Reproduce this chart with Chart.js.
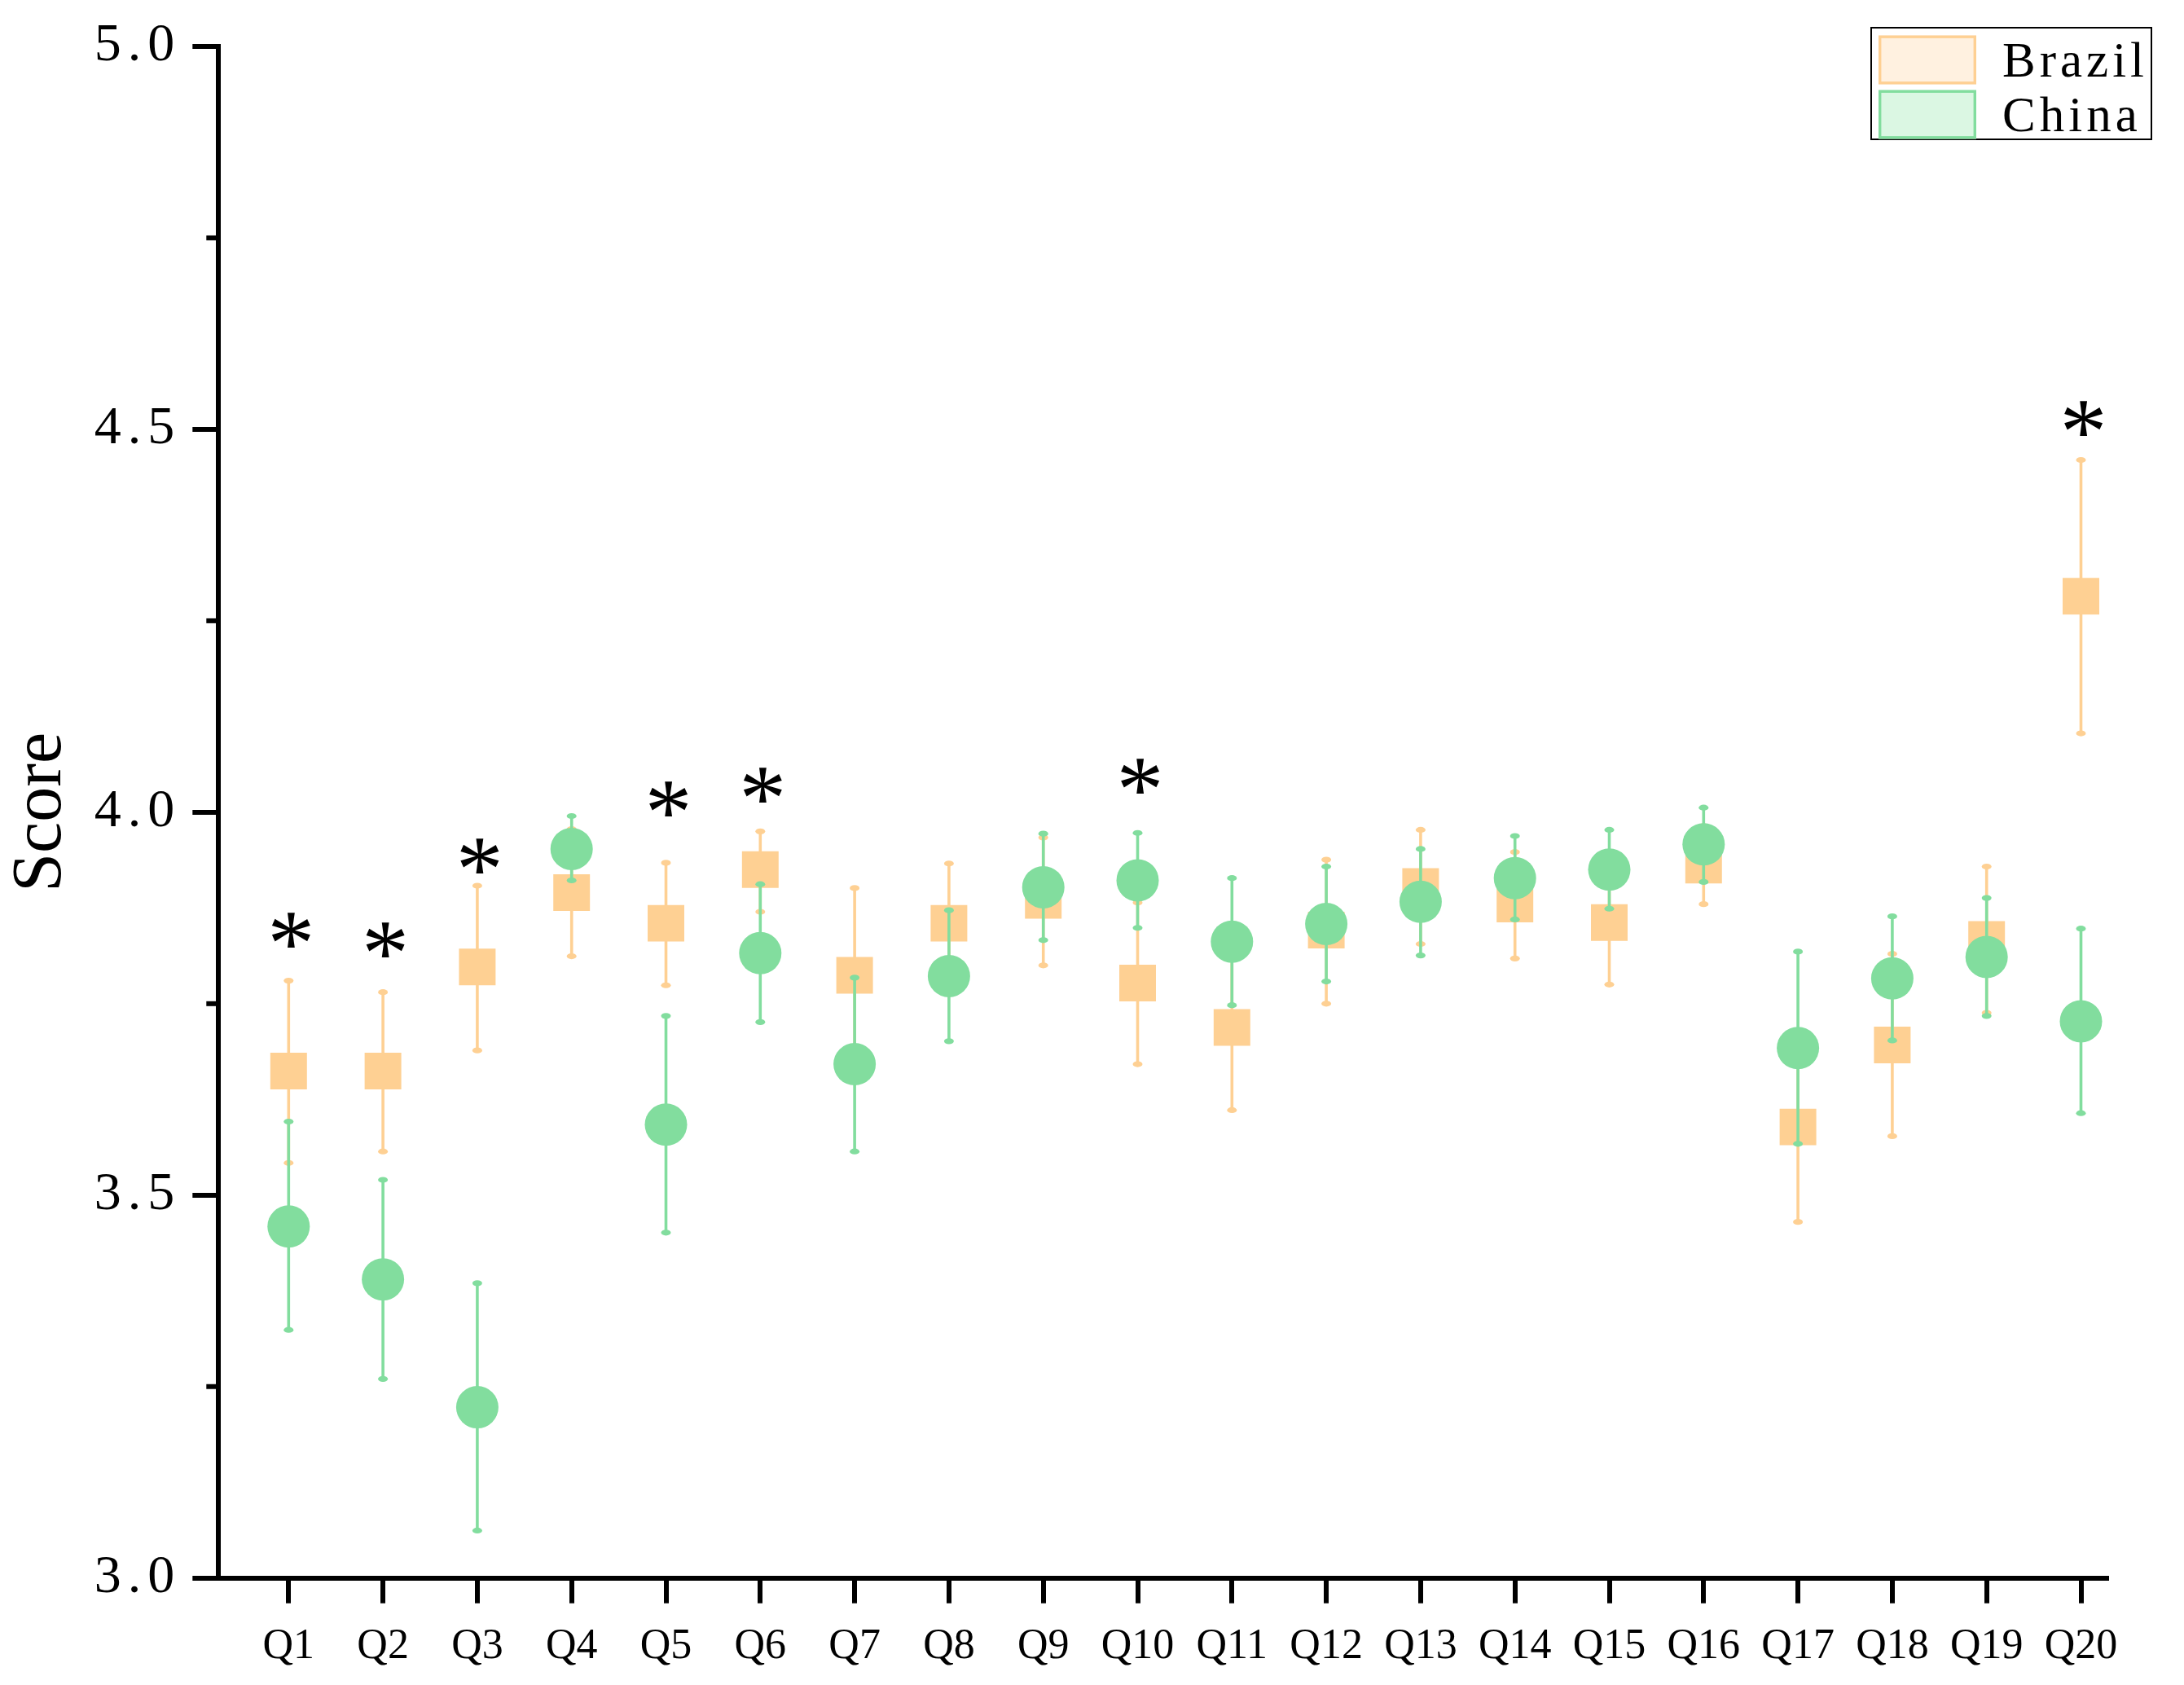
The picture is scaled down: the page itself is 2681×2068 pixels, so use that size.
<!DOCTYPE html>
<html>
<head>
<meta charset="utf-8">
<script src="https://cdn.jsdelivr.net/npm/chart.js@4.4.1/dist/chart.umd.min.js"></script>
<style>
html, body { margin: 0; padding: 0; background: #ffffff; }
#wrap { width: 2681px; height: 2068px; position: relative; }
canvas { display: block; }
</style>
</head>
<body>
<div id="wrap"><canvas id="chart" width="2681" height="2068"></canvas></div>
<script>
// ---------------- data ----------------
const categories = ['Q1','Q2','Q3','Q4','Q5','Q6','Q7','Q8','Q9','Q10',
                    'Q11','Q12','Q13','Q14','Q15','Q16','Q17','Q18','Q19','Q20'];

const brazilMean = [3.662, 3.662, 3.798, 3.895, 3.855, 3.925, 3.787, 3.855, 3.885, 3.777,
                    3.719, 3.846, 3.903, 3.880, 3.856, 3.931, 3.589, 3.696, 3.834, 4.282];
const brazilLow  = [3.542, 3.557, 3.689, 3.812, 3.774, 3.870, 3.673, 3.777, 3.800, 3.671,
                    3.611, 3.750, 3.828, 3.809, 3.775, 3.880, 3.465, 3.577, 3.738, 4.103];
const brazilHigh = [3.780, 3.765, 3.904, 3.978, 3.934, 3.975, 3.901, 3.933, 3.967, 3.882,
                    3.827, 3.938, 3.977, 3.948, 3.937, 3.982, 3.713, 3.815, 3.929, 4.460];

const chinaMean  = [3.459, 3.390, 3.223, 3.952, 3.592, 3.816, 3.671, 3.786, 3.902, 3.911,
                    3.831, 3.854, 3.883, 3.914, 3.925, 3.958, 3.692, 3.783, 3.811, 3.727];
const chinaLow   = [3.324, 3.260, 3.062, 3.911, 3.451, 3.726, 3.557, 3.701, 3.833, 3.849,
                    3.748, 3.779, 3.813, 3.860, 3.874, 3.909, 3.567, 3.702, 3.734, 3.607];
const chinaHigh  = [3.596, 3.520, 3.385, 3.995, 3.734, 3.906, 3.784, 3.872, 3.972, 3.973,
                    3.914, 3.929, 3.952, 3.969, 3.977, 4.006, 3.818, 3.864, 3.888, 3.848];

// significance markers (y position of the "*", null = none)
const starLevels = [3.846, 3.833, 3.943, null, 4.017, 4.035, null, null, null, 4.047,
                    null, null, null, null, null, null, null, null, null, 4.514];

const yMin = 3.0, yMax = 5.0, yStep = 0.5;
const yMinorTicks = [3.25, 3.75, 4.25, 4.75];
const seriesNames = ['Brazil', 'China'];
const yTitle = 'Score';

// ---------------- style ----------------
const FONT = '"Liberation Serif", "Times New Roman", serif';
const ORANGE = '#FED093';
const GREEN = '#82DD9E';
const ORANGE_LIGHT = '#FFF1E0';
const GREEN_LIGHT = '#DBF7E3';

function toPoints(vals) { return vals.map((v, i) => ({ x: i + 1, y: v })); }

function drawErrorBars(chart, lows, highs, color) {
  const { ctx, scales } = chart;
  const xs = scales.x, ys = scales.y;
  ctx.save();
  ctx.strokeStyle = color;
  ctx.fillStyle = color;
  ctx.lineWidth = 3.6;
  lows.forEach((lo, i) => {
    const px = xs.getPixelForValue(i + 1);
    const pLo = ys.getPixelForValue(lo);
    const pHi = ys.getPixelForValue(highs[i]);
    ctx.beginPath();
    ctx.moveTo(px, pLo);
    ctx.lineTo(px, pHi);
    ctx.stroke();
    [pLo, pHi].forEach(py => {
      ctx.beginPath();
      ctx.ellipse(px, py, 6, 3.6, 0, 0, Math.PI * 2);
      ctx.fill();
    });
  });
  ctx.restore();
}

const errorBarPlugin = {
  id: 'errorBars',
  beforeDatasetDraw(chart, args) {
    if (args.index === 0) drawErrorBars(chart, brazilLow, brazilHigh, ORANGE);
    if (args.index === 1) drawErrorBars(chart, chinaLow, chinaHigh, GREEN);
  }
};

const starPlugin = {
  id: 'stars',
  afterDatasetsDraw(chart) {
    const { ctx, scales } = chart;
    ctx.save();
    ctx.fillStyle = '#000';
    ctx.textAlign = 'center';
    ctx.textBaseline = 'alphabetic';
    ctx.font = '100px ' + FONT;
    let m = ctx.measureText('*');
    const h0 = m.actualBoundingBoxAscent + m.actualBoundingBoxDescent;
    const size = h0 > 0 ? 100 * 43 / h0 : 110;
    ctx.font = size.toFixed(1) + 'px ' + FONT;
    m = ctx.measureText('*');
    const asc = m.actualBoundingBoxAscent, desc = m.actualBoundingBoxDescent;
    starLevels.forEach((v, i) => {
      if (v === null) return;
      const px = scales.x.getPixelForValue(i + 1) + 3;
      const py = scales.y.getPixelForValue(v);
      ctx.fillText('*', px, py + (asc - desc) / 2);
    });
    ctx.restore();
  }
};

const minorTickPlugin = {
  id: 'minorTicks',
  afterDraw(chart) {
    const { ctx, scales, chartArea } = chart;
    ctx.save();
    ctx.strokeStyle = '#000';
    ctx.lineWidth = 6;
    yMinorTicks.forEach(v => {
      const py = scales.y.getPixelForValue(v);
      ctx.beginPath();
      ctx.moveTo(chartArea.left - 15, py);
      ctx.lineTo(chartArea.left, py);
      ctx.stroke();
    });
    ctx.restore();
  }
};

const boxLegendPlugin = {
  id: 'boxLegend',
  afterDraw(chart) {
    const { ctx } = chart;
    const fills = [ORANGE_LIGHT, GREEN_LIGHT];
    const strokes = [ORANGE, GREEN];
    ctx.save();
    // frame
    ctx.strokeStyle = '#000';
    ctx.lineWidth = 2;
    ctx.strokeRect(2297, 34, 344, 137);
    // swatches and labels
    const swX = 2306, swW = 120, swH = 60;
    const swY = [43.5, 110.5];
    const baseY = [94, 160.5];
    seriesNames.forEach((name, i) => {
      ctx.fillStyle = fills[i];
      ctx.fillRect(swX, swY[i], swW, swH);
      ctx.strokeStyle = strokes[i];
      ctx.lineWidth = 3.4;
      ctx.strokeRect(swX + 1.7, swY[i] + 1.7, swW - 3.4, swH - 3.4);
      ctx.fillStyle = '#000';
      ctx.font = '61px ' + FONT;
      ctx.textAlign = 'left';
      ctx.textBaseline = 'alphabetic';
      try { ctx.letterSpacing = '5px'; } catch (e) {}
      ctx.fillText(name, 2458, baseY[i]);
    });
    ctx.restore();
  }
};

const ctx = document.getElementById('chart').getContext('2d');
new Chart(ctx, {
  type: 'scatter',
  data: {
    datasets: [
      {
        label: seriesNames[0],
        data: toPoints(brazilMean),
        pointStyle: 'rect',
        pointRadius: 31.8,
        pointHoverRadius: 31.8,
        backgroundColor: ORANGE,
        borderColor: ORANGE,
        borderWidth: 0,
        order: 2,
        clip: false
      },
      {
        label: seriesNames[1],
        data: toPoints(chinaMean),
        pointStyle: 'circle',
        pointRadius: 26,
        pointHoverRadius: 26,
        backgroundColor: GREEN,
        borderColor: GREEN,
        borderWidth: 0,
        order: 1,
        clip: false
      }
    ]
  },
  options: {
    responsive: false,
    devicePixelRatio: 1,
    animation: false,
    events: [],
    layout: { padding: { top: 57, right: 95, bottom: 0, left: 0 } },
    plugins: {
      legend: { display: false },
      tooltip: { enabled: false },
      title: { display: false }
    },
    scales: {
      x: {
        type: 'linear',
        position: 'bottom',
        min: 0.2573,
        max: 20.272,
        bounds: 'data',
        afterBuildTicks(scale) {
          scale.ticks = categories.map((c, i) => ({ value: i + 1 }));
        },
        afterFit(scale) { scale.height = 131.3; },
        border: { display: true, color: '#000', width: 6 },
        grid: {
          display: true,
          drawOnChartArea: false,
          drawTicks: true,
          tickLength: 31,
          tickWidth: 6,
          tickColor: '#000',
          lineWidth: 6,
          color: '#000'
        },
        ticks: {
          autoSkip: false,
          maxRotation: 0,
          minRotation: 0,
          padding: 22,
          color: '#000',
          font: { family: FONT, size: 52 },
          callback(value) { return categories[Math.round(value) - 1]; }
        }
      },
      y: {
        type: 'linear',
        position: 'left',
        min: yMin,
        max: yMax,
        afterFit(scale) {
          scale.width = 268.3;
          if (!scale._lsPatched) {
            scale._lsPatched = true;
            const proto = Object.getPrototypeOf(scale);
            scale.drawLabels = function (area) {
              const c = this.ctx;
              c.save();
              try { c.letterSpacing = '8px'; } catch (e) {}
              proto.drawLabels.call(this, area);
              c.restore();
            };
          }
        },
        border: { display: true, color: '#000', width: 6 },
        grid: {
          display: true,
          drawOnChartArea: false,
          drawTicks: true,
          tickLength: 32,
          tickWidth: 6,
          tickColor: '#000',
          lineWidth: 6,
          color: '#000'
        },
        ticks: {
          stepSize: yStep,
          padding: 14,
          color: '#000',
          font: { family: FONT, size: 66 },
          callback(value) { return Number(value).toFixed(1); }
        },
        title: {
          display: true,
          text: yTitle,
          color: '#000',
          font: { family: FONT, size: 86 },
          padding: { top: 0, bottom: 0 }
        }
      }
    }
  },
  plugins: [errorBarPlugin, starPlugin, minorTickPlugin, boxLegendPlugin]
});
</script>
</body>
</html>
